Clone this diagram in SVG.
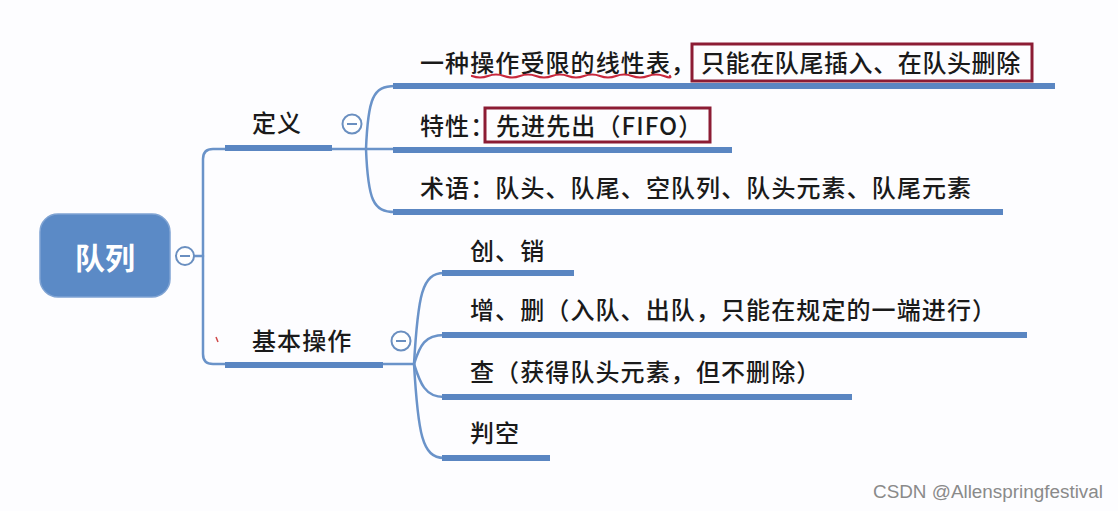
<svg xmlns="http://www.w3.org/2000/svg" width="1118" height="511" viewBox="0 0 1118 511">
<style>
.bg{fill:#fdfdff}
.thin{fill:none;stroke:#6a93c9;stroke-width:2.5;stroke-linecap:round}
.ul{fill:none;stroke:#5a86c2;stroke-width:6}
.t{font-family:"Noto Sans CJK SC","Noto Sans",sans-serif;font-size:24px;fill:#1a1a1a;letter-spacing:1.1px;font-weight:500}
.box{fill:none;stroke:#8c1c34;stroke-width:3}
.tog circle{fill:#ffffff;stroke:#6a8fc0;stroke-width:2}
.tog line{stroke:#6a8fc0;stroke-width:2}
</style>
<rect class="bg" x="0" y="0" width="1118" height="511"/>
<g id="connectors">
  <path class="thin" d="M194,256 H203"/>
  <path class="thin" d="M225,149 H213 Q203,149 203,159 V354 Q203,364 213,364 H225"/>
  <path class="thin" d="M330,149 H366"/>
  <path class="thin" d="M366,149 C368,98 373,86 395,86"/>
  <path class="thin" d="M366,149 H395"/>
  <path class="thin" d="M366,149 C368,200 373,212 395,212"/>
  <path class="thin" d="M380,364 H414"/>
  <path class="thin" d="M414,364 C418,295 422,273 444,273"/>
  <path class="thin" d="M414,364 C420,345 425,335 444,335"/>
  <path class="thin" d="M414,364 C420,383 425,397 444,397"/>
  <path class="thin" d="M414,364 C418,433 422,458 444,458"/>
</g>
<g id="root">
  <rect x="40" y="214" width="130" height="83" rx="18" fill="#5b8ac6" stroke="#7fa3d3" stroke-width="1.5"/>
  <text x="105" y="269" text-anchor="middle" font-family="Noto Sans CJK SC, sans-serif" font-size="30" font-weight="bold" fill="#ffffff">队列</text>
</g>
<g id="root-toggle" class="tog">
  <circle cx="185" cy="256" r="9"/>
  <line x1="180" y1="256" x2="190" y2="256"/>
</g>
<g id="def">
  <path class="ul" d="M225,148 H332"/>
  <text class="t" x="252" y="132">定义</text>
</g>
<g id="def-toggle" class="tog">
  <circle cx="352" cy="124" r="9.5"/>
  <line x1="347" y1="124" x2="357" y2="124"/>
</g>
<g id="def1">
  <path class="ul" d="M393,86 H1055"/>
  <text class="t" x="420" y="72">一种操作受限的线性表，</text>
  <path d="M472,76 q8,3 16,0 t16,0 t16,0 t16,0 t16,0 t16,0 t16,0 t16,0 t16,0 t16,0 t16,0 t16,0 t6,0" fill="none" stroke="#c8283c" stroke-width="2.2" stroke-linecap="round"/>
  <rect class="box" x="692" y="44" width="340" height="37"/>
  <text class="t" x="701" y="72" style="letter-spacing:0.6px">只能在队尾插入、在队头删除</text>
</g>
<g id="def2">
  <path class="ul" d="M393,150 H732"/>
  <text class="t" x="420" y="135">特性：</text>
  <rect class="box" x="485" y="108" width="225" height="34"/>
  <text class="t" x="496" y="135">先进先出（FIFO）</text>
</g>
<g id="def3">
  <path class="ul" d="M393,212 H1003"/>
  <text class="t" x="420" y="197">术语：队头、队尾、空队列、队头元素、队尾元素</text>
</g>
<g id="ops">
  <path class="ul" d="M225,365 H383"/>
  <text class="t" x="252" y="350">基本操作</text>
  <path d="M216,337 L218,342" stroke="#d04848" stroke-width="1.5" fill="none"/>
</g>
<g id="ops-toggle" class="tog">
  <circle cx="401" cy="341" r="9.5"/>
  <line x1="396" y1="341" x2="406" y2="341"/>
</g>
<g id="op1">
  <path class="ul" d="M442,273 H574"/>
  <text class="t" x="470" y="260">创、销</text>
</g>
<g id="op2">
  <path class="ul" d="M442,335 H1027"/>
  <text class="t" x="470" y="319">增、删（入队、出队，只能在规定的一端进行）</text>
</g>
<g id="op3">
  <path class="ul" d="M442,397 H852"/>
  <text class="t" x="470" y="381">查（获得队头元素，但不删除）</text>
</g>
<g id="op4">
  <path class="ul" d="M442,458 H550"/>
  <text class="t" x="470" y="442">判空</text>
</g>
<text x="873" y="498" font-family="Liberation Sans, Arial, sans-serif" font-size="18" fill="#8a8a8a" textLength="230" lengthAdjust="spacingAndGlyphs">CSDN @Allenspringfestival</text>
</svg>
